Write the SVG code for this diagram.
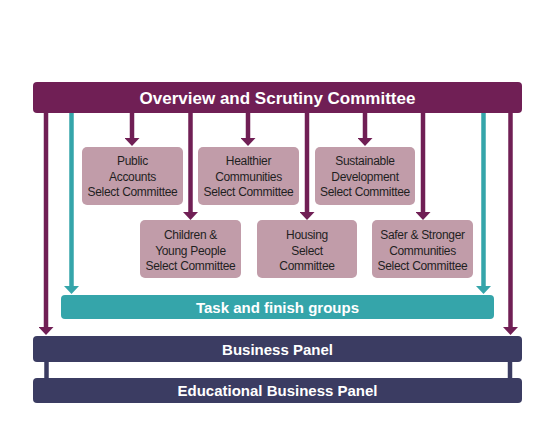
<svg xmlns="http://www.w3.org/2000/svg" width="556" height="445" viewBox="0 0 556 445">
<style>
.bar{fill:#701f55}
.box{fill:#c19ca9}
.teal{fill:#35a5aa}
.navy{fill:#3b3c62}
.hd{font-family:"Liberation Sans",Arial,sans-serif;font-weight:bold;fill:#fff;text-anchor:middle}
.bt{font-family:"Liberation Sans",Arial,sans-serif;font-size:12px;letter-spacing:-0.3px;fill:#1f1f1f;text-anchor:middle}
.pl{stroke:#701f55;stroke-width:4.5;fill:none}
.tl{stroke:#35a5aa;stroke-width:4.5;fill:none}
.nl{stroke:#3b3c62;stroke-width:4.5;fill:none}
</style>
<defs>
<marker id="ap" markerUnits="userSpaceOnUse" markerWidth="8" markerHeight="15" viewBox="0 0 8 15" refX="0" refY="7.5" orient="auto"><path d="M0,0 L8,7.5 L0,15 z" fill="#701f55"/></marker>
<marker id="at" markerUnits="userSpaceOnUse" markerWidth="8" markerHeight="15" viewBox="0 0 8 15" refX="0" refY="7.5" orient="auto"><path d="M0,0 L8,7.5 L0,15 z" fill="#35a5aa"/></marker>
</defs>
<rect width="556" height="445" fill="#fff"/>
<g id="connectors">
<line class="pl" x1="46" y1="110" x2="46" y2="327" marker-end="url(#ap)"/>
<line class="tl" x1="71.5" y1="110" x2="71.5" y2="286" marker-end="url(#at)"/>
<line class="pl" x1="132" y1="110" x2="132" y2="138" marker-end="url(#ap)"/>
<line class="pl" x1="248" y1="110" x2="248" y2="138" marker-end="url(#ap)"/>
<line class="pl" x1="365" y1="110" x2="365" y2="138" marker-end="url(#ap)"/>
<line class="pl" x1="190.5" y1="110" x2="190.5" y2="212" marker-end="url(#ap)"/>
<line class="pl" x1="307" y1="110" x2="307" y2="212" marker-end="url(#ap)"/>
<line class="pl" x1="423" y1="110" x2="423" y2="212" marker-end="url(#ap)"/>
<line class="tl" x1="483.5" y1="110" x2="483.5" y2="286" marker-end="url(#at)"/>
<line class="pl" x1="510.5" y1="110" x2="510.5" y2="327" marker-end="url(#ap)"/>
<line class="nl" x1="46.5" y1="360" x2="46.5" y2="380"/>
<line class="nl" x1="510" y1="360" x2="510" y2="380"/>
</g>
<g id="overview">
<rect class="bar" x="33" y="82" width="489" height="31" rx="4"/>
<text class="hd" x="277.5" y="104" font-size="17">Overview and Scrutiny Committee</text>
</g>
<g id="public-accounts">
<rect class="box" x="82" y="147" width="101" height="58" rx="5"/>
<text class="bt" x="132.5" y="165">Public</text>
<text class="bt" x="132.5" y="180.5">Accounts</text>
<text class="bt" x="132.5" y="196">Select Committee</text>
</g>
<g id="healthier-communities">
<rect class="box" x="198" y="147" width="101" height="58" rx="5"/>
<text class="bt" x="248.5" y="165">Healthier</text>
<text class="bt" x="248.5" y="180.5">Communities</text>
<text class="bt" x="248.5" y="196">Select Committee</text>
</g>
<g id="sustainable-development">
<rect class="box" x="315" y="147" width="100" height="58" rx="5"/>
<text class="bt" x="365" y="165">Sustainable</text>
<text class="bt" x="365" y="180.5">Development</text>
<text class="bt" x="365" y="196">Select Committee</text>
</g>
<g id="children-young-people">
<rect class="box" x="140" y="220" width="101" height="58" rx="5"/>
<text class="bt" x="190.5" y="239">Children &amp;</text>
<text class="bt" x="190.5" y="254.5">Young People</text>
<text class="bt" x="190.5" y="270">Select Committee</text>
</g>
<g id="housing">
<rect class="box" x="257" y="220" width="100" height="58" rx="5"/>
<text class="bt" x="307" y="239">Housing</text>
<text class="bt" x="307" y="254.5">Select</text>
<text class="bt" x="307" y="270">Committee</text>
</g>
<g id="safer-stronger">
<rect class="box" x="372" y="220" width="101" height="58" rx="5"/>
<text class="bt" x="422.5" y="239">Safer &amp; Stronger</text>
<text class="bt" x="422.5" y="254.5">Communities</text>
<text class="bt" x="422.5" y="270">Select Committee</text>
</g>
<g id="task-finish">
<rect class="teal" x="61" y="295" width="433" height="24" rx="4"/>
<text class="hd" x="277.5" y="312.5" font-size="15">Task and finish groups</text>
</g>
<g id="business-panel">
<rect class="navy" x="33" y="336" width="489" height="26" rx="4"/>
<text class="hd" x="277.5" y="354.5" font-size="15">Business Panel</text>
</g>
<g id="educational-business-panel">
<rect class="navy" x="33" y="378" width="489" height="25" rx="4"/>
<text class="hd" x="277.5" y="396" font-size="15">Educational Business Panel</text>
</g>
</svg>
